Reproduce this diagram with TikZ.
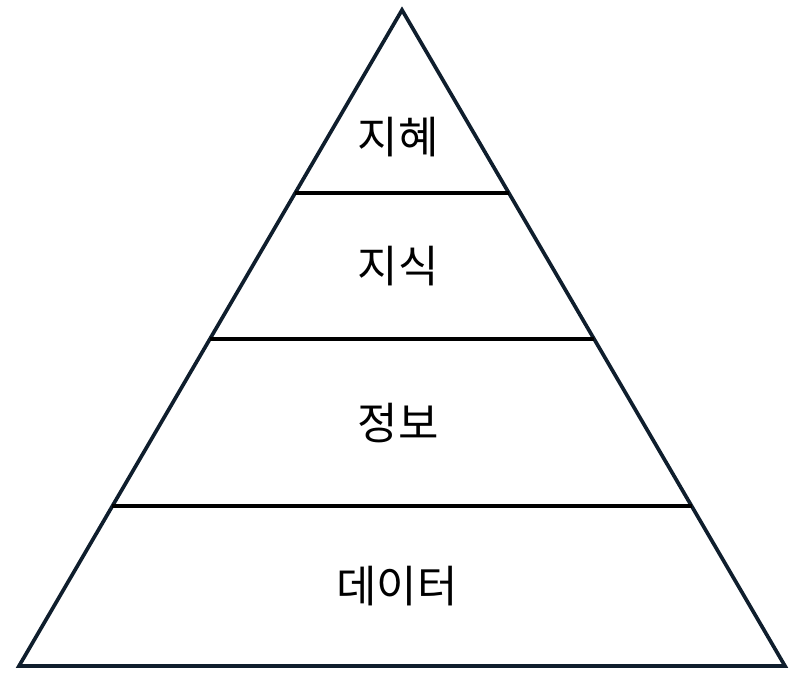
\documentclass[tikz,border=0pt]{standalone}
\usepackage{fontspec}
\newfontfamily\kr{Noto Sans CJK KR}
\usetikzlibrary{calc}
\definecolor{edgecol}{HTML}{0F1E2D}
\tikzset{
  tri/.style={draw=edgecol, line width=2.1pt, line join=miter},
  band/.style={draw=black, line width=2.1pt},
  lab/.style={font=\kr\fontsize{25}{29}\selectfont, inner sep=0pt, text=black}
}
\begin{document}
\begin{tikzpicture}[x=0.02cm,y=-0.02cm]
\useasboundingbox (0,0) rectangle (800,682);
\coordinate (A) at (402,10);
\coordinate (L) at (19,666);
\coordinate (R) at (785,666);
\draw[tri] (A) -- (L) -- (R) -- cycle;
\foreach \y/\n in {193/a,339/b,506/c}{
  \pgfmathsetmacro{\t}{(\y-10)/656}
  \coordinate (l\n) at ($(A)!\t!(L)$);
  \coordinate (r\n) at ($(A)!\t!(R)$);
  \draw[band] (l\n) -- (r\n);
}
\node[lab] (w) at (398,137) {지혜};
\node[lab] (k) at (398,266) {지식};
\node[lab] (i) at (398,423) {정보};
\node[lab] (d) at (397,586) {데이터};
\end{tikzpicture}
\end{document}
